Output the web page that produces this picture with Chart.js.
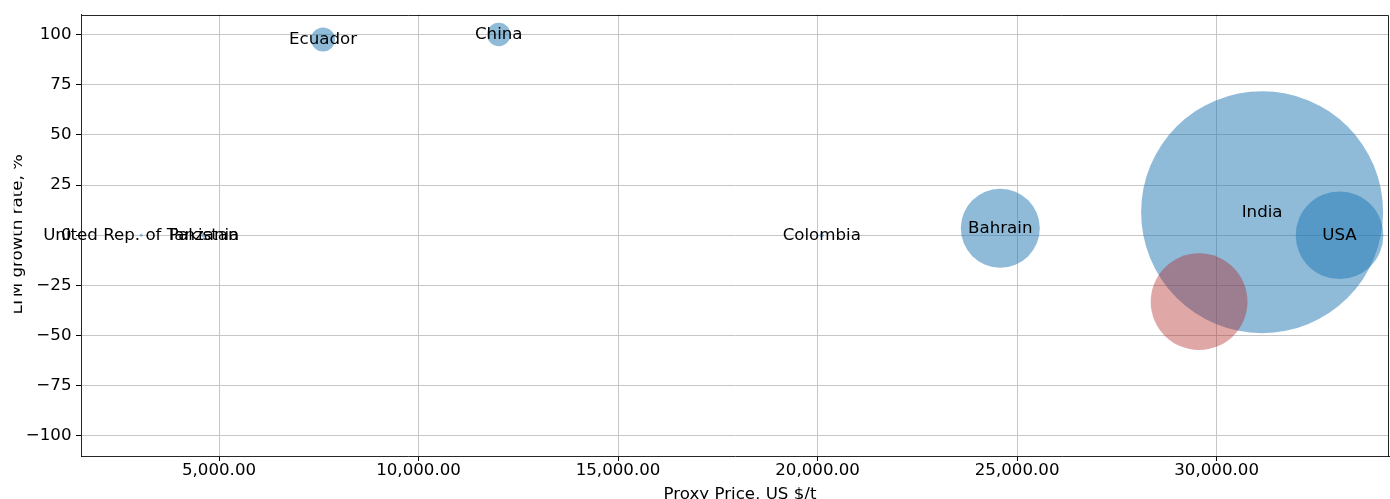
<!DOCTYPE html>
<html><head><meta charset="utf-8">
<script src="https://cdn.jsdelivr.net/npm/chart.js@4"></script>
<style>html,body{margin:0;padding:0;background:#fff;overflow:hidden;width:1390px;height:499px}
#wrap{position:absolute;left:0;top:0;width:1390px;height:499px}
#c{display:block}</style>
</head><body><div id="wrap"><canvas id="c"></canvas></div>
<script>
// ---- data ----
const countries   = ['United Rep. of Tanzania', 'Pakistan', 'Ecuador', 'China', 'Colombia', 'Bahrain', 'India', 'USA'];
const proxyPrice  = [3050, 4616, 7606, 12010, 20105, 24579, 31140, 33080];
const growthRate  = [0, 0, 97.5, 100, 0, 3.5, 11.5, 0];
const tradeVolume = [2, 5, 144, 137, 4, 1560, 14640, 1920];

const highlightLabels = [''];
const highlightPrice  = [29561];
const highlightGrowth = [-33.1];
const highlightVolume = [2340];

const xTicks = [5000, 10000, 15000, 20000, 25000, 30000];
const yTicks = [-100, -75, -50, -25, 0, 25, 50, 75, 100];
const xRange = [1541, 34320];
const yRange = [-110, 110];

const xTitle = 'Proxy Price, US $/t';
const yTitle = 'LTM growth rate, %';

// ---- styling ----
const FONT = 'DejaVu Sans';
const FS = 16.67;
const maxVolume = Math.max(...tradeVolume, ...highlightVolume);
const maxRadius = 121;
const radiusOf = v => Math.sqrt(v / maxVolume) * maxRadius;

function points(xs, ys, vs, labels) {
  return xs.map((x, i) => ({x: x, y: ys[i], r: radiusOf(vs[i]), label: labels[i]}));
}

const labelPlugin = {
  id: 'bubbleLabels',
  afterDatasetsDraw(chart) {
    const ctx = chart.ctx;
    ctx.save();
    ctx.font = FS + 'px "' + FONT + '"';
    ctx.fillStyle = '#000';
    ctx.textAlign = 'center';
    ctx.textBaseline = 'middle';
    chart.data.datasets.forEach((ds, di) => {
      const meta = chart.getDatasetMeta(di);
      meta.data.forEach((el, i) => {
        const lab = ds.data[i].label;
        if (lab) ctx.fillText(lab, el.x, el.y);
      });
    });
    ctx.restore();
  }
};

// frame (top/right spines) + axis titles (y title clipped at the left like the original figure)
const framePlugin = {
  id: 'frame',
  afterDraw(chart) {
    const a = chart.chartArea, ctx = chart.ctx;
    ctx.save();
    ctx.strokeStyle = 'rgba(0,0,0,0.85)';
    ctx.lineWidth = 1;
    ctx.beginPath();
    ctx.moveTo(Math.round(a.left) + 0.5, Math.round(a.top) + 0.5);
    ctx.lineTo(Math.round(a.right) - 0.5, Math.round(a.top) + 0.5);
    ctx.lineTo(Math.round(a.right) - 0.5, Math.round(a.bottom) + 0.5);
    ctx.stroke();
    ctx.restore();

    ctx.save();
    ctx.font = FS + 'px "' + FONT + '"';
    ctx.fillStyle = '#000';
    ctx.textAlign = 'center';
    ctx.textBaseline = 'alphabetic';
    ctx.fillText(xTitle, (a.left + a.right) / 2 + 5, chart.height - 0.5);
    ctx.restore();

    ctx.save();
    ctx.beginPath();
    ctx.rect(13.8, 0, a.left - 13.8, chart.height);
    ctx.clip();
    ctx.font = FS + 'px "' + FONT + '"';
    ctx.fillStyle = '#000';
    ctx.textAlign = 'center';
    ctx.textBaseline = 'alphabetic';
    ctx.translate(22.3, (a.top + a.bottom) / 2 - 1);
    ctx.rotate(-Math.PI / 2);
    ctx.fillText(yTitle, 0, 0);
    ctx.restore();
  }
};

const gridColor = '#c6c6c6';

new Chart(document.getElementById('c'), {
  type: 'bubble',
  data: {
    datasets: [
      {
        label: 'Countries',
        data: points(proxyPrice, growthRate, tradeVolume, countries),
        backgroundColor: 'rgba(31,119,180,0.5)',
        borderWidth: 0,
        order: 1
      },
      {
        label: 'Highlight',
        data: points(highlightPrice, highlightGrowth, highlightVolume, highlightLabels),
        backgroundColor: 'rgba(178,34,34,0.4)',
        borderWidth: 0,
        order: 0
      }
    ]
  },
  options: {
    responsive: true,
    maintainAspectRatio: false,
    devicePixelRatio: 1,
    animation: false,
    events: [],
    layout: {autoPadding: false, padding: {left: 0, right: 1, top: 14, bottom: 0}},
    plugins: {legend: {display: false}, tooltip: {enabled: false}},
    elements: {point: {hoverRadius: 0}},
    scales: {
      x: {
        type: 'linear',
        min: xRange[0], max: xRange[1],
        afterBuildTicks: s => { s.ticks = xTicks.map(v => ({value: v})); },
        afterFit: s => { s.height = 43; },
        grid: {color: gridColor, lineWidth: 1, drawTicks: true, tickLength: 5, tickColor: '#000', tickWidth: 1},
        border: {display: true, color: 'rgba(0,0,0,0.85)', width: 1},
        ticks: {
          padding: 0, color: '#000', maxRotation: 0, autoSkip: false,
          font: {family: FONT, size: FS},
          callback: v => Number(v).toLocaleString('en-US', {minimumFractionDigits: 2, maximumFractionDigits: 2})
        },
        title: {display: false}
      },
      y: {
        type: 'linear',
        min: yRange[0], max: yRange[1],
        afterBuildTicks: s => { s.ticks = yTicks.map(v => ({value: v})); },
        afterFit: s => { s.width = 81; },
        grid: {color: gridColor, lineWidth: 1, drawTicks: true, tickLength: 5, tickColor: '#000', tickWidth: 1},
        border: {display: true, color: 'rgba(0,0,0,0.85)', width: 1},
        ticks: {
          padding: 4.5, color: '#000', autoSkip: false,
          font: {family: FONT, size: FS},
          callback: v => v < 0 ? '\u2212' + Math.abs(v) : String(v)
        },
        title: {display: false}
      }
    }
  },
  plugins: [labelPlugin, framePlugin]
});
</script>
</body></html>
